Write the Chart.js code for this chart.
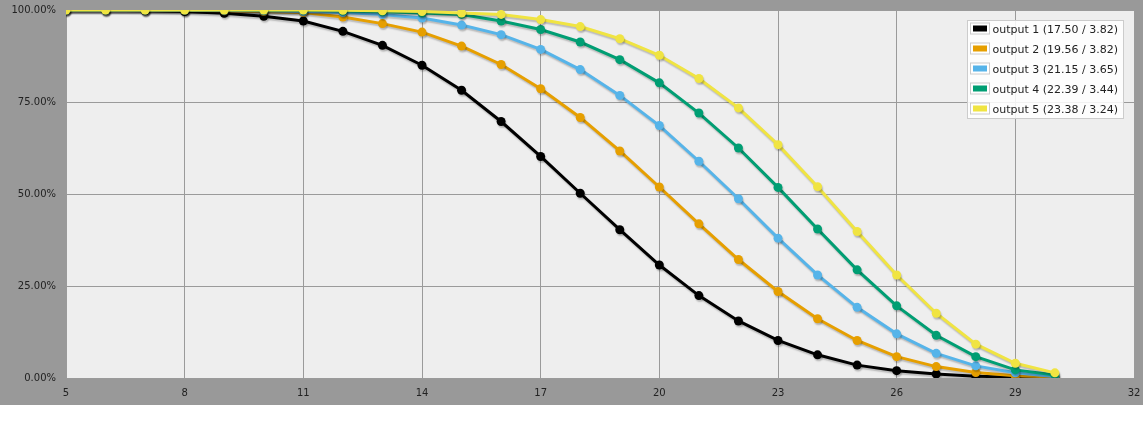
<!DOCTYPE html>
<html>
<head>
<meta charset="utf-8">
<script src="https://cdn.jsdelivr.net/npm/chart.js@4/dist/chart.umd.min.js"></script>
<style>
  html, body { margin: 0; padding: 0; background: #ffffff; }
  #wrap { width: 1143px; height: 405px; background: #999999; box-shadow: 0 1px 0 #444; position: relative; }
  canvas { display: block; }
</style>
</head>
<body>
<div id="wrap"><canvas id="c" width="1143" height="405"></canvas></div>
<script>
// ---- data (x = 5 .. 30) ----
const xValues = [5, 6, 7, 8, 9, 10, 11, 12, 13, 14, 15, 16, 17, 18, 19, 20, 21, 22, 23, 24, 25, 26, 27, 28, 29, 30];
const seriesLabels = [
  'output 1 (17.50 / 3.82)',
  'output 2 (19.56 / 3.82)',
  'output 3 (21.15 / 3.65)',
  'output 4 (22.39 / 3.44)',
  'output 5 (23.38 / 3.24)'
];
const seriesColors = ['#000000', '#E69F00', '#56B4E9', '#009E73', '#F0E442'];
const output1 = [99.97, 99.92, 99.8, 99.6, 99.1, 98.3, 97.0, 94.2, 90.4, 85.0, 78.2, 69.7, 60.2, 50.2, 40.3, 30.7, 22.4, 15.5, 10.2, 6.3, 3.5, 2.0, 1.1, 0.5, 0.2, 0.1];
const output2 = [100, 99.99, 99.97, 99.92, 99.8, 99.6, 99.3, 98.1, 96.3, 94.0, 90.2, 85.2, 78.6, 70.8, 61.7, 51.9, 41.9, 32.2, 23.5, 16.1, 10.2, 5.8, 3.1, 1.5, 0.6, 0.3];
const output3 = [100, 100, 99.99, 99.97, 99.92, 99.8, 99.6, 99.3, 98.8, 97.8, 95.9, 93.3, 89.3, 83.8, 76.8, 68.6, 58.9, 48.7, 38.0, 28.0, 19.2, 12.0, 6.7, 3.3, 1.4, 0.4];
const output4 = [100, 100, 100, 99.99, 99.98, 99.95, 99.9, 99.7, 99.5, 99.2, 98.8, 97.0, 94.7, 91.3, 86.5, 80.2, 72.0, 62.5, 51.8, 40.5, 29.4, 19.6, 11.6, 5.8, 2.2, 0.8];
const output5 = [100, 100, 100, 100, 100, 99.99, 99.97, 99.9, 99.8, 99.6, 99.2, 98.8, 97.4, 95.5, 92.2, 87.7, 81.4, 73.4, 63.4, 52.0, 39.8, 28.0, 17.6, 9.2, 4.0, 1.4];
const seriesValues = [output1, output2, output3, output4, output5];
const xMin = 5, xMax = 32, xStep = 3;
const yMin = 0, yMax = 100, yStep = 25;

Chart.defaults.font.family = "'DejaVu Sans', Verdana, sans-serif";
Chart.defaults.font.size = 10;
Chart.defaults.color = '#222222';

const datasets = seriesValues.map((vals, i) => ({
  label: seriesLabels[i],
  data: vals.map((v, j) => ({ x: xValues[j], y: v })),
  borderColor: seriesColors[i],
  backgroundColor: seriesColors[i],
  pointBackgroundColor: seriesColors[i],
  pointBorderColor: seriesColors[i],
  borderWidth: 3,
  pointRadius: 4.5,
  pointBorderWidth: 0,
  tension: 0,
  fill: false,
  clip: 0,
  order: seriesValues.length - i
}));

const plotBg = {
  id: 'plotBg',
  beforeDraw(chart) {
    const { ctx, chartArea: a } = chart;
    ctx.save();
    ctx.fillStyle = '#eeeeee';
    ctx.fillRect(a.left, a.top, a.right - a.left, a.bottom - a.top);
    ctx.restore();
  }
};

const shadow = {
  id: 'shadow',
  beforeDatasetsDraw(chart) {
    const ctx = chart.ctx;
    ctx.save();
    ctx.shadowColor = 'rgba(0,0,0,0.22)';
    ctx.shadowOffsetX = 1;
    ctx.shadowOffsetY = 2;
    ctx.shadowBlur = 1.5;
  },
  afterDatasetsDraw(chart) {
    chart.ctx.restore();
  }
};

const boxLegend = {
  id: 'boxLegend',
  afterDraw(chart) {
    const { ctx, chartArea: a } = chart;
    const w = 156, rowH = 20;
    const n = chart.data.datasets.length;
    const h = n * rowH - 2;
    const left = Math.round(a.right - 11 - w) + 0.5;
    const top = Math.round(a.top + 10) + 0.5;
    ctx.save();
    ctx.fillStyle = 'rgba(255,255,255,0.86)';
    ctx.fillRect(left, top, w, h);
    ctx.strokeStyle = '#cccccc';
    ctx.lineWidth = 1;
    ctx.strokeRect(left, top, w, h);
    ctx.font = "11px 'DejaVu Sans', Verdana, sans-serif";
    ctx.textBaseline = 'middle';
    ctx.textAlign = 'left';
    chart.data.datasets.forEach((ds, i) => {
      const sy = top + 2.5 + i * rowH;
      const sx = left + 3;
      ctx.fillStyle = '#ffffff';
      ctx.fillRect(sx, sy, 19, 11);
      ctx.strokeStyle = '#cccccc';
      ctx.strokeRect(sx, sy, 19, 11);
      ctx.fillStyle = ds.borderColor;
      ctx.fillRect(sx + 2.5, sy + 2.5, 14, 6);
      ctx.fillStyle = '#222222';
      ctx.fillText(ds.label, left + 25, top + 10 + i * rowH);
    });
    ctx.restore();
  }
};

new Chart(document.getElementById('c'), {
  type: 'line',
  data: { datasets },
  plugins: [plotBg, shadow, boxLegend],
  options: {
    responsive: false,
    animation: false,
    layout: { padding: { top: 10, right: 9, left: 0, bottom: 0 } },
    plugins: {
      legend: { display: false },
      tooltip: { enabled: false },
      title: { display: false }
    },
    scales: {
      x: {
        type: 'linear',
        min: xMin,
        max: xMax,
        afterFit(scale) { scale.height = 27; scale.paddingLeft = 0; scale.paddingRight = 0; },
        ticks: { stepSize: xStep, padding: 9, color: '#222222', font: { size: 10 } },
        grid: { color: '#9a9a9a', lineWidth: 1, drawTicks: false },
        border: { display: false }
      },
      y: {
        type: 'linear',
        min: yMin,
        max: yMax,
        afterFit(scale) { scale.width = 66; scale.paddingTop = 0; scale.paddingBottom = 0; },
        ticks: {
          stepSize: yStep,
          padding: 10,
          color: '#222222',
          font: { size: 10 },
          callback: (v) => Number(v).toFixed(2) + '%'
        },
        grid: { color: '#9a9a9a', lineWidth: 1, drawTicks: false },
        border: { display: false }
      }
    }
  }
});
</script>
</body>
</html>
